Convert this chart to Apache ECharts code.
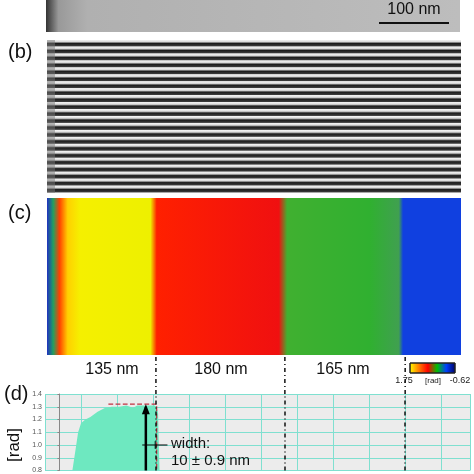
<!DOCTYPE html><html><head><meta charset="utf-8"><script src="https://cdn.jsdelivr.net/npm/echarts@6/dist/echarts.min.js"></script>
<style>html,body{margin:0;background:#fff}#c{width:474px;height:474px}</style></head><body><div id="c"></div><script>
const segmentLabels=['135 nm','180 nm','165 nm'];
const boundariesNm=[134,313,480];
const profileX=[18,22,26,30,36,43,53,63,73,83,93,98,102,108,118,126,132,135,137,138,139];
const profileY=[0.8,0.95,1.1,1.17,1.2,1.22,1.26,1.29,1.3,1.3,1.31,1.3,1.29,1.31,1.31,1.31,1.31,1.3,1.25,1.0,0.8];
const yTicks=[0.9,1.0,1.1,1.2,1.3,1.4];
const fringeCount=22;
const colorbarStops=['#ffff00','#ff8000','#ff0000','#00c000','#0040ff','#000060'];

const chart=echarts.init(document.getElementById('c'));
const fstops=[];
for(let i=0;i<fringeCount;i++){const a=i/fringeCount,b=(i+0.5)/fringeCount;
fstops.push({offset:a,color:'#f2f2f2'},{offset:a+0.25/fringeCount,color:'#d8d8d8'},{offset:b,color:'#1c1c1c'},{offset:b+0.35/fringeCount,color:'#3a3a3a'},{offset:(i+1)/fringeCount-0.001,color:'#eeeeee'});}
const lin=(x1,y1,x2,y2,cs)=>({type:'linear',x:x1,y:y1,x2:x2,y2:y2,colorStops:cs});
const g=[
 {type:'rect',shape:{x:46,y:0,width:414,height:32},style:{fill:lin(0,0,1,0,[{offset:0,color:'#333'},{offset:0.03,color:'#999'},{offset:0.1,color:'#b0b0b0'},{offset:1,color:'#bdbdbd'}])}},
 {type:'line',shape:{x1:379,y1:23,x2:449,y2:23},style:{stroke:'#111',lineWidth:2}},
 {type:'text',x:414,y:2,style:{text:'100 nm',fontSize:16,fill:'#111',align:'center',fontFamily:'Liberation Sans'}},
 {type:'text',x:8,y:42,style:{text:'(b)',fontSize:20,fill:'#111',fontFamily:'Liberation Sans'}},
 {type:'rect',shape:{x:47,y:40,width:414,height:153},style:{fill:lin(0,0,0,1,fstops)}},
 {type:'rect',shape:{x:47,y:40,width:8,height:153},style:{fill:'rgba(120,120,120,0.5)'}},
 {type:'text',x:8,y:203,style:{text:'(c)',fontSize:20,fill:'#111',fontFamily:'Liberation Sans'}},
 {type:'rect',shape:{x:47,y:198,width:414,height:157},style:{fill:lin(0,0,1,0,[
  {offset:0,color:'#2030c0'},{offset:0.015,color:'#20a060'},{offset:0.03,color:'#ff4000'},{offset:0.05,color:'#ffd000'},{offset:0.08,color:'#f5f000'},{offset:0.25,color:'#eef000'},{offset:0.265,color:'#ff2000'},{offset:0.56,color:'#f01010'},{offset:0.58,color:'#40b030'},{offset:0.78,color:'#30b030'},{offset:0.85,color:'#40a050'},{offset:0.86,color:'#1040e0'},{offset:1,color:'#1040e0'}])}},
 {type:'rect',shape:{x:410,y:363,width:45,height:10},style:{fill:lin(0,0,1,0,colorbarStops.map((c,i)=>({offset:i/(colorbarStops.length-1),color:c}))),stroke:'#222',lineWidth:1}},
 {type:'text',x:404,y:376,style:{text:'1.75',fontSize:9,fill:'#222',align:'center'}},
 {type:'text',x:433,y:377,style:{text:'[rad]',fontSize:8,fill:'#222',align:'center'}},
 {type:'text',x:460,y:376,style:{text:'-0.62',fontSize:9,fill:'#222',align:'center'}},
 {type:'text',x:4,y:384,style:{text:'(d)',fontSize:20,fill:'#111',fontFamily:'Liberation Sans'}},
 {type:'text',x:6,y:462,rotation:Math.PI/2,style:{text:'[rad]',fontSize:17,fill:'#111',fontFamily:'Liberation Sans'}},
 {type:'text',x:171,y:436,style:{text:'width:',fontSize:15,fill:'#111',fontFamily:'Liberation Sans'}},
 {type:'text',x:171,y:453,style:{text:'10 ± 0.9 nm',fontSize:15,fill:'#111',fontFamily:'Liberation Sans'}},
];
[112,221,343].forEach((x,i)=>g.push({type:'text',x:x,y:362,style:{text:segmentLabels[i],fontSize:16,fill:'#111',align:'center',fontFamily:'Liberation Sans'}}));
g.forEach((e,i)=>{e.id='g'+i;e.z=100;});
chart.setOption({animation:false,graphic:g,
 grid:{left:45,right:4,top:394,bottom:-14},
 xAxis:{type:'value',min:-20,max:570,interval:50,axisLabel:{show:false},axisTick:{show:false},axisLine:{show:false},splitLine:{lineStyle:{color:'#7fe0d0',width:1}}},
 yAxis:{type:'value',min:0.8,max:1.4,interval:0.1,axisLabel:{fontSize:7,color:'#555',formatter:v=>v.toFixed(1),margin:3},axisTick:{show:true,length:2},axisLine:{show:true,lineStyle:{color:'#888'}},splitLine:{lineStyle:{color:'#7fe0d0'}},splitArea:{show:true,areaStyle:{color:['#ececec','#ececec']}}},
 series:[
  {type:'line',data:profileX.map((x,i)=>[x,profileY[i]]),symbol:'none',lineStyle:{width:0},areaStyle:{color:'#6ee8c0',opacity:1},
   markLine:{silent:true,symbol:'none',label:{show:false},lineStyle:{color:'#111',type:[4,3,1,3],width:1.5},data:boundariesNm.map(x=>({xAxis:x}))}},
  {type:'line',data:[[68,1.32],[135,1.32],[135,0.8]],symbol:'none',lineStyle:{color:'#c03040',type:'dashed',width:1.2}},
  {type:'line',data:[[120,0.8],[120,1.3]],symbol:'none',lineStyle:{color:'#000',width:2.5}},
  {type:'line',data:[[115,1.0],[150,1.0]],symbol:'none',lineStyle:{color:'#000',width:1}},
  {type:'line',data:[[133,0.97],[133,1.03]],symbol:'none',lineStyle:{color:'#000',width:1}},
 ]});
const extra=boundariesNm.map((x,i)=>{const px=chart.convertToPixel({gridIndex:0},[x,1])[0];
 return {id:'b'+i,type:'line',z:100,shape:{x1:px,y1:357,x2:px,y2:394},style:{stroke:'#111',lineDash:[4,3,1,3],lineWidth:1.5}};});
const tip=chart.convertToPixel({gridIndex:0},[120,1.32]);
extra.push({id:'arr',type:'polygon',z:100,shape:{points:[[tip[0],tip[1]],[tip[0]-4,tip[1]+10],[tip[0]+4,tip[1]+10]]},style:{fill:'#000'}});
chart.setOption({graphic:g.concat(extra)});
</script></body></html>
